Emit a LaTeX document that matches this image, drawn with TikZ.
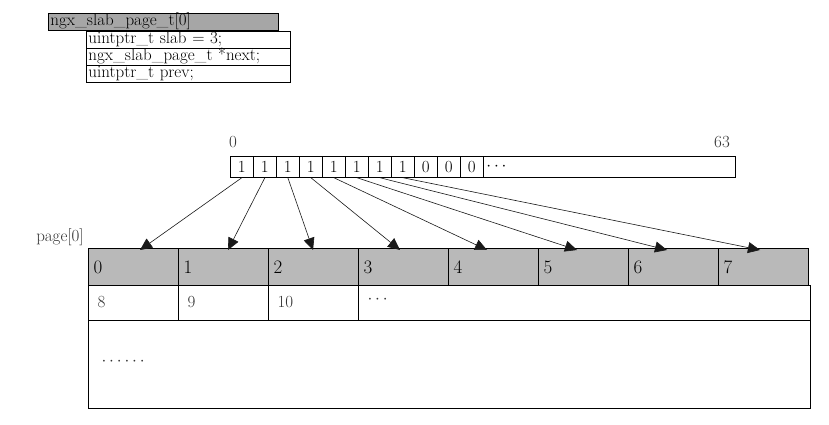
\documentclass[tikz,border=0pt]{standalone}
\usetikzlibrary{arrows.meta}
\begin{document}
\begin{tikzpicture}[x=1pt,y=-1pt,
  cell/.style={draw,line width=0.8pt,minimum height=17pt,anchor=north west,inner sep=2pt,text height=10pt,text depth=3pt,font=\fontsize{17}{17}\selectfont},
  bit/.style={draw,line width=0.7pt,minimum width=23pt,minimum height=21pt,anchor=north west,inner sep=0pt,font=\fontsize{17}{17}\selectfont},
  hd/.style={draw,line width=0.9pt,fill=gray!55,minimum width=90pt,minimum height=37pt,anchor=north west,inner sep=0pt},
  lab/.style={font=\fontsize{17}{17}\selectfont,gray!40!black},
  arr/.style={-{Triangle[length=12pt,width=11pt]},line width=0.6pt,gray!20!black}]
\useasboundingbox (0,0) rectangle (829,425);
% struct
\node[cell,fill=gray!70,minimum width=230pt,text width=226pt,align=left] (h) at (48,13) {ngx\_slab\_page\_t[0]};
\node[cell,minimum width=204pt,text width=200pt,align=left] (r1) at (86,31) {uintptr\_t slab = 3;};
\node[cell,minimum width=204pt,text width=200pt,align=left] (r2) at (86,48) {ngx\_slab\_page\_t *next;};
\node[cell,minimum width=204pt,text width=200pt,align=left] (r3) at (86,65) {uintptr\_t prev;};
% bits
\node[lab] (l0) at (233,142) {0};
\node[lab] (l63) at (722,142) {63};
\foreach \i/\t in {0/1,1/1,2/1,3/1,4/1,5/1,6/1,7/1,8/0,9/0,10/0}{
  \node[bit] (b\i) at ({230+23*\i},156) {\t};
}
\node[bit,minimum width=252pt,text width=246pt,align=left] (brest) at (483,156) {$\cdots$};
% grid
\node[lab] (pg) at (60,237) {page[0]};
\foreach \i in {0,...,7}{
  \node[hd] (p\i) at ({88+90*\i},248) {};
  \node[anchor=west,font=\fontsize{19}{19}\selectfont] at ({90+90*\i},267) {\i};
}
\draw[line width=0.8pt] (88,285) rectangle (810,320) (178,285) -- (178,320) (268,285) -- (268,320) (358,285) -- (358,320);
\draw[line width=0.8pt] (88,320) rectangle (810,408);
\node[anchor=west,lab] (n8) at (94,302) {8};
\node[anchor=west,lab] (n9) at (184,302) {9};
\node[anchor=west,lab] (n10) at (274,302) {10};
\node[anchor=west,lab] (nd) at (364,300) {$\cdots$};
\node[anchor=west,lab] (dd) at (98,362) {$\cdots\cdots$};
% arrows
\foreach \i/\x in {0/140,1/228,2/313,3/400,4/487,5/577,6/667,7/760}{
  \draw[arr] (b\i.south) -- (\x,250);
}
\end{tikzpicture}
\end{document}
